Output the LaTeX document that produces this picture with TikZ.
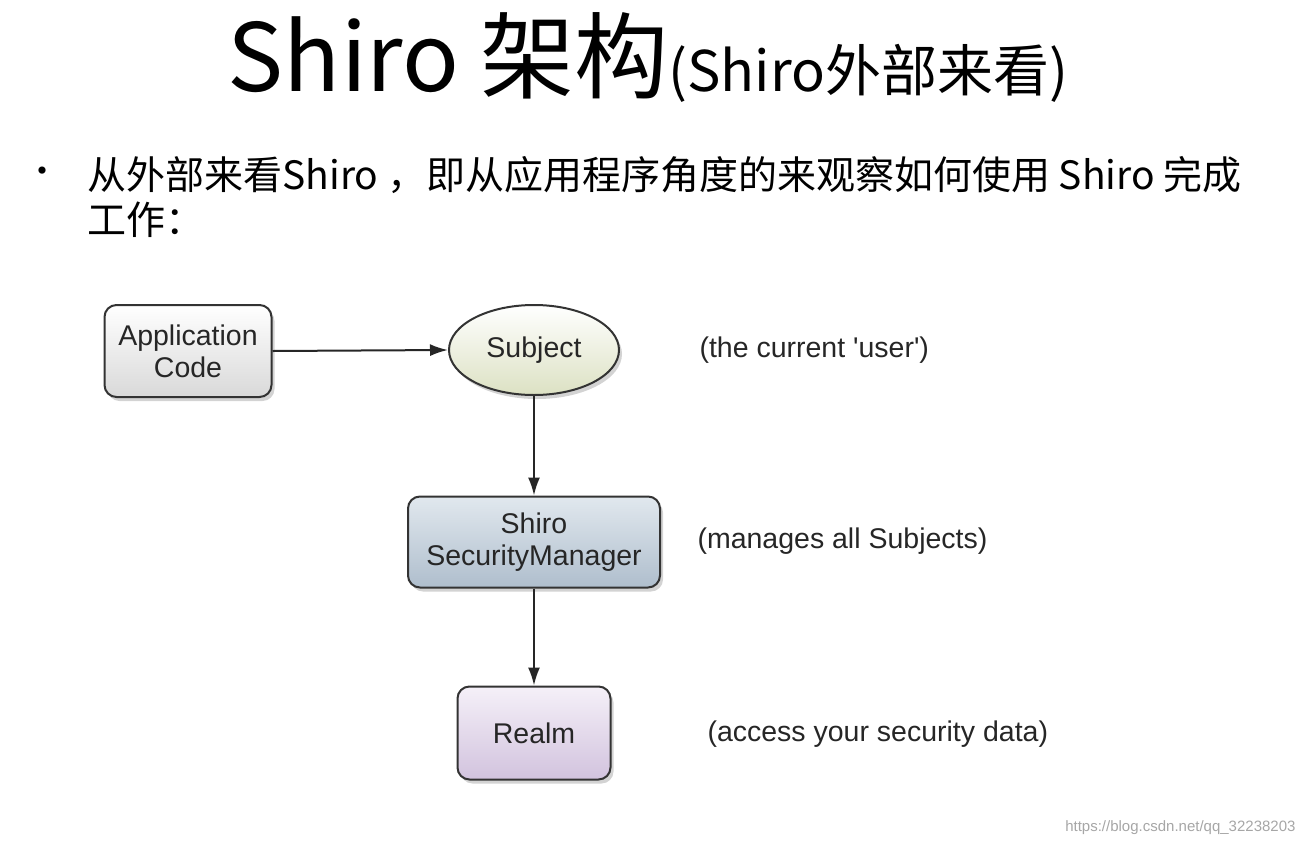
\documentclass[tikz,border=0pt]{standalone}
\usepackage{fontspec}
\setmainfont{Liberation Sans}[Ligatures=NoCommon]
\newfontfamily\cjk{Noto Sans CJK SC}
\newfontfamily\plainsans{Liberation Sans}[Mapping=]
\usetikzlibrary{shadows,arrows.meta,shapes.geometric}
\begin{document}
\begin{tikzpicture}[x=1pt,y=-1pt,
  box/.style={draw=black!80,line width=2pt,rounded corners=12pt,drop shadow={shadow xshift=3pt,shadow yshift=-4pt,opacity=.35},align=center,font=\fontsize{28.5}{32}\selectfont,text=black!85},
  lbl/.style={font=\fontsize{28.5}{32}\selectfont,text=black!85,anchor=west},
  arr/.style={-{Latex[length=18pt,width=12pt]},line width=2pt,black!85}]
\useasboundingbox (0,0) rectangle (1306,846);
\node (title) at (648,58) {\cjk\fontsize{94}{100}\selectfont Shiro 架构\fontsize{56}{60}\selectfont(Shiro外部来看)};
\node (bul) at (42,175) {\cjk\fontsize{34}{40}\selectfont •};
\node[anchor=west] (l1) at (84,175) {\cjk\fontsize{39}{44}\selectfont 从外部来看Shiro ，即从应用程序角度的来观察如何使用 Shiro 完成};
\node[anchor=west] (l2) at (84,220) {\cjk\fontsize{39}{44}\selectfont 工作：};
\node[box,top color=white,bottom color=black!15,minimum width=167pt,minimum height=92pt] (app) at (188,351) {Application\\Code};
\node[box,ellipse,rounded corners=0pt,top color=white,bottom color={rgb,255:red,220;green,225;blue,195},minimum width=170pt,minimum height=90pt] (sub) at (534,350) {Subject};
\node[box,top color={rgb,255:red,225;green,232;blue,238},bottom color={rgb,255:red,175;green,190;blue,205},minimum width=252pt,minimum height=91pt] (sm) at (534,542) {Shiro\\SecurityManager};
\node[box,top color={rgb,255:red,245;green,240;blue,248},bottom color={rgb,255:red,210;green,195;blue,222},minimum width=153pt,minimum height=93pt] (realm) at (534,733) {Realm};
\node[lbl] (t1) at (696,350) {\plainsans (the current 'user')};
\node[lbl] (t2) at (694,541) {(manages all Subjects)};
\node[lbl] (t3) at (704,734) {(access your security data)};
\node[anchor=east,font=\fontsize{15}{18}\selectfont,text=black!35] (wm) at (1299,828) {https://blog.csdn.net/qq\_32238203};
\draw[arr] (app.east) -- (sub.west);
\draw[arr] (sub.south) -- (sm.north);
\draw[arr] (sm.south) -- (realm.north);
\end{tikzpicture}
\end{document}
